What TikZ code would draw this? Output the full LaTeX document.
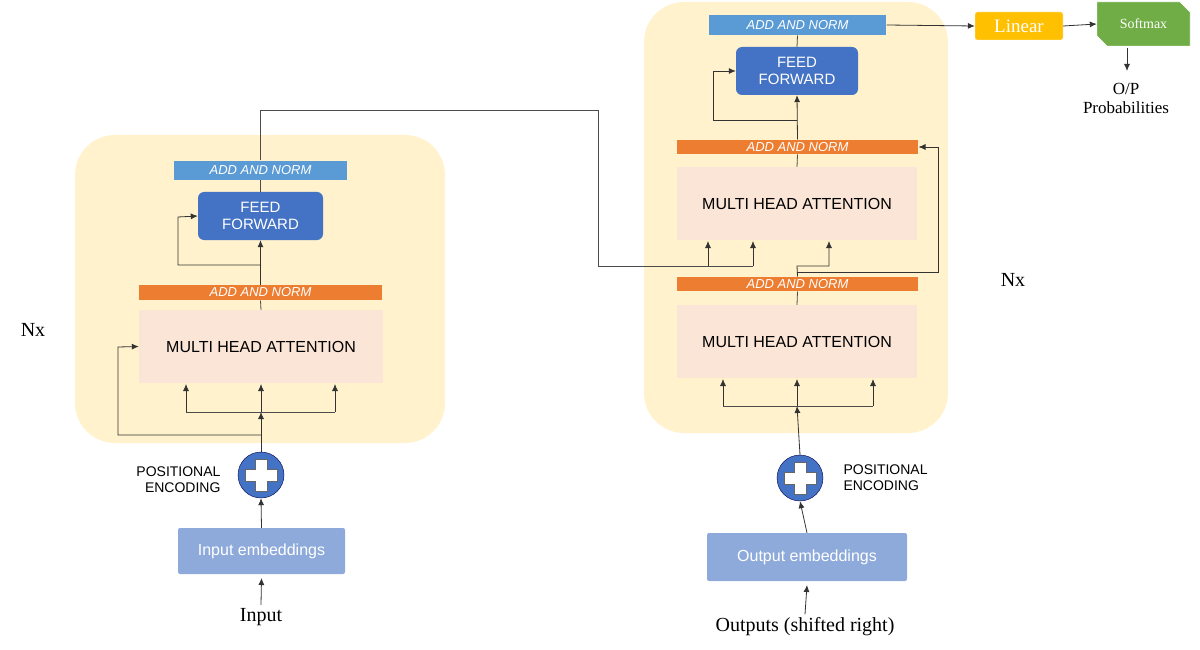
\documentclass[tikz,border=0pt]{standalone}
\usepackage{fontspec}
\setmainfont{Liberation Serif}
\setsansfont{Liberation Sans}
\usetikzlibrary{arrows.meta,shapes.geometric,shapes.misc}
\definecolor{bgy}{HTML}{FFF2CC}
\definecolor{anb}{HTML}{5B9BD5}
\definecolor{ano}{HTML}{ED7D31}
\definecolor{ffb}{HTML}{4472C4}
\definecolor{mha}{HTML}{FBE5D6}
\definecolor{emb}{HTML}{8EAADB}
\definecolor{lin}{HTML}{FFC000}
\definecolor{smx}{HTML}{70AD47}
\begin{document}
\begin{tikzpicture}[x=1pt,y=-1pt,
  box/.style 2 args={draw=none,minimum width=#1,minimum height=#2,inner sep=0pt,anchor=center},
  an/.style={font=\sffamily\itshape\fontsize{13}{13}\selectfont,text=white,draw=white,line width=1pt},
  ff/.style={fill=ffb,draw=black!80!blue,rounded corners=6pt,text=white,align=center,font=\sffamily\fontsize{15}{17}\selectfont},
  mh/.style={fill=mha,draw=red!40!black,text=black,font=\sffamily\fontsize{16}{16}\selectfont},
  em/.style={fill=emb,draw=white,text=white,font=\sffamily\fontsize{16}{16}\selectfont,rounded corners=2pt},
  lbl/.style={font=\sffamily\fontsize{14}{16}\selectfont,align=left},
  st/.style={font=\fontsize{20}{22}\selectfont},
  ar/.style={-{Latex[length=7pt,width=6pt]},line width=0.8pt,draw=black!80},
  ln/.style={line width=0.8pt,draw=black!70}]
\useasboundingbox (0,0) rectangle (1200,650);
% backgrounds
\fill[bgy,rounded corners=40pt] (75,135) rectangle (445,443);
\fill[bgy,rounded corners=40pt] (644,2) rectangle (948,433);
% encoder
\node[an,box={173}{19},fill=anb] (ean) at (260.5,170.5) {ADD AND NORM};
\node[ff,box={125}{48}] (eff) at (260.5,216) {FEED\\FORWARD};
\node[an,box={243}{15},fill=ano] (eao) at (260.5,292.5) {ADD AND NORM};
\node[mh,box={244}{73}] (emh) at (261,346.5) {MULTI HEAD ATTENTION};
\node[circle,fill=ffb,draw=black!70!blue,minimum size=46pt,inner sep=0pt] (epe) at (261,475) {};
\fill[white,draw=black!60] (255,459)--(267,459)--(267,469)--(277,469)--(277,481)--(267,481)--(267,491)--(255,491)--(255,481)--(245,481)--(245,469)--(255,469)--cycle;
\node[lbl,align=right,anchor=east] (epl) at (224,480) {POSITIONAL\\ENCODING};
\node[em,box={167}{46}] (eem) at (261.5,551) {Input embeddings};
\node[st] (ein) at (261,617) {Input};
\node[st] (enx) at (33,330) {Nx};
\coordinate (e1) at (261,412);
\draw[ar] (ein.north) -- (eem.north |- 0,578);
\draw[ar] (eem.north) -- (epe.south);
\draw[ar] (epe.north) -- (e1);
\draw[ln] (186,412) -- (335,412);
\draw[ar] (186,412) -- (186,384);
\draw[ar] (e1) -- (261,384);
\draw[ar] (335,412) -- (335,384);
\draw[ar] (261,435) -- (118,435) -- (118,347) -- (emh.west);
\draw[ln] (emh.north) -- (eao.south);
\draw[ar] (eao.north) -- (eff.south);
\draw[ar] (261,265) -- (178,265) -- (178,217) -- (eff.west);
\draw[ln] (eff.north) -- (ean.south);
% decoder
\node[an,box={177}{20},fill=anb] (dan) at (797.5,25) {ADD AND NORM};
\node[ff,box={122}{48}] (dff) at (797,71) {FEED\\FORWARD};
\node[an,box={241}{14},fill=ano] (dao1) at (797.5,147) {ADD AND NORM};
\node[mh,box={240}{73}] (dmh1) at (797,203.5) {MULTI HEAD ATTENTION};
\node[an,box={241}{14},fill=ano] (dao2) at (797.5,284) {ADD AND NORM};
\node[mh,box={240}{73}] (dmh2) at (797,341.5) {MULTI HEAD ATTENTION};
\node[circle,fill=ffb,draw=black!70!blue,minimum size=46pt,inner sep=0pt] (dpe) at (800,478) {};
\fill[white,draw=black!60] (794,462)--(806,462)--(806,472)--(816,472)--(816,484)--(806,484)--(806,494)--(794,494)--(794,484)--(784,484)--(784,472)--(794,472)--cycle;
\node[lbl,anchor=west] (dpl) at (840,478) {POSITIONAL\\ENCODING};
\node[em,box={200}{48}] (dem) at (807,557) {Output embeddings};
\node[st] (dout) at (805,627) {Outputs (shifted right)};
\node[st] (dnx) at (1013,280) {Nx};
\coordinate (d1) at (797,406);
\draw[ar] (dout.north) -- (807,585);
\draw[ar] (dem.north) -- (dpe.south);
\draw[ar] (dpe.north) -- (797,406);
\draw[ln] (723,406) -- (873,406);
\draw[ar] (723,406) -- (723,379);
\draw[ar] (d1) -- (797,379);
\draw[ar] (873,406) -- (873,379);
\draw[ln] (dmh2.north) -- (dao2.south);
\draw[ar] (dao2.north) -- (797,266) -- (829,266) -- (829,241);
\draw[ar] (797,272) -- (938,272) -- (938,147) -- (dao1.east);
\draw[ln] (dmh1.north) -- (dao1.south);
\draw[ar] (dao1.north) -- (dff.south);
\draw[ar] (797,120) -- (713,120) -- (713,71) -- (dff.west);
\draw[ln] (dff.north) -- (dan.south);
% encoder -> decoder
\draw[ln] (ean.north) -- (260.5,110) -- (598,110) -- (598,266) -- (753,266);
\draw[ar] (708,266) -- (708,241);
\draw[ar] (753,266) -- (753,241);
% output head
\node[fill=lin,draw=white,rounded corners=2pt,minimum width=88pt,minimum height=28pt,inner sep=0pt,text=white,font=\fontsize{19}{19}\selectfont] (lin) at (1019,26) {Linear};
\node[fill=smx,draw=white,chamfered rectangle,chamfered rectangle corners={north east,south west},chamfered rectangle xsep=5pt,chamfered rectangle ysep=5pt,minimum width=93pt,minimum height=44pt,inner sep=0pt,text=white,font=\fontsize{14}{14}\selectfont] (smx) at (1143.5,24) {Softmax};
\node[font=\fontsize{17}{19}\selectfont,align=center] (prob) at (1126,98) {O/P\\Probabilities};
\draw[ar] (dan.east) -- (lin.west);
\draw[ar] (lin.east) -- (smx.west);
\draw[ar] (1127,48) -- (1127,71);
\end{tikzpicture}
\end{document}
